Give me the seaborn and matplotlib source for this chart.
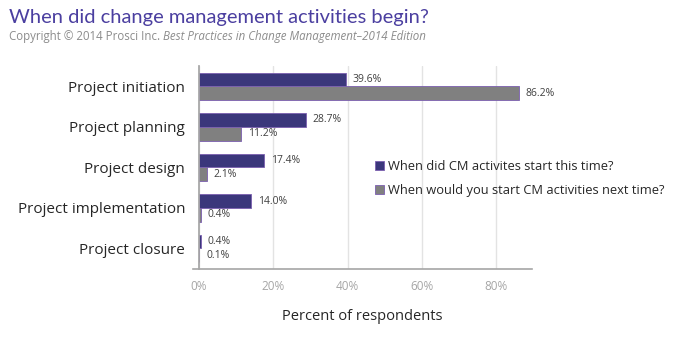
import matplotlib
matplotlib.use("Agg")
import matplotlib.pyplot as plt
import seaborn as sns
import pandas as pd
import numpy as np

categories = ["Project initiation", "Project planning", "Project design",
              "Project implementation", "Project closure"]
series_names = ["When did CM activites start this time?",
                "When would you start CM activities next time?"]
this_time = [39.6, 28.7, 17.4, 14.0, 0.4]
next_time = [86.2, 11.2, 2.1, 0.4, 0.1]
x_ticks = [0, 20, 40, 60, 80]

sns.set_theme(style="white")
plt.rcParams['font.family'] = ['Open Sans', 'DejaVu Sans']

df = pd.DataFrame({
    "category": categories * 2,
    "series": [series_names[0]] * len(categories) + [series_names[1]] * len(categories),
    "value": this_time + next_time,
})

fig = plt.figure(figsize=(7, 3.48), dpi=100)
ax = fig.add_axes([0.2764, 0.228, 0.4836, 0.582])

colors = ["#312C86", "#808080"]
sns.barplot(data=df, y="category", x="value", hue="series", order=categories,
            hue_order=series_names, palette=colors, orient="h", width=0.68,
            edgecolor="#7B5FB0", linewidth=0.6, ax=ax, legend=True)

ax.set_xlim(-1.5, 89.7)
ax.set_ylim(len(categories) - 0.5, -0.5)
ax.set_xticks(x_ticks)
ax.set_xticklabels([f"{t}%" for t in x_ticks], color="#A6A6A6", fontsize=8.5)
ax.xaxis.grid(True, color="#E3E3E3", linewidth=1)
ax.set_axisbelow(True)
ax.tick_params(axis="x", length=0, pad=8)

ax.set_yticks(range(len(categories)))
ax.set_yticklabels(categories, fontsize=11, color="#262626")
ax.tick_params(axis="y", which="major", length=0, pad=10)
ax.set_yticks(np.arange(-0.5, len(categories), 1), minor=True)
ax.tick_params(axis="y", which="minor", length=5, color="#A6A6A6", width=1)

for s in ["top", "right"]:
    ax.spines[s].set_visible(False)
ax.spines["left"].set_color("#A6A6A6")
ax.spines["bottom"].set_color("#A6A6A6")
ax.spines["left"].set_position(("data", 0))
ax.spines["bottom"].set_linewidth(1.2)

ax.set_xlabel("Percent of respondents", fontsize=10.5, color="#262626", labelpad=12)
ax.set_ylabel("")

for cont in ax.containers:
    ax.bar_label(cont, labels=[f"{v:.1f}%" for v in cont.datavalues],
                 padding=5, fontsize=7.5, color="#404040")

leg = ax.legend(loc="upper left", bbox_to_anchor=(0.52, 0.56), frameon=False,
                fontsize=9.3, handlelength=0.7, handleheight=0.7,
                handletextpad=0.3, labelspacing=0.8, borderaxespad=0)
for t in leg.get_texts():
    t.set_color("#262626")

fig.text(0.013, 0.935, "When did change management activities begin?",
         fontsize=14.5, color="#4B3FA0", family=["Lato", "DejaVu Sans"])
t1 = fig.text(0.013, 0.885, "Copyright \u00a9 2014 Prosci Inc. ", fontsize=8.3,
              color="#8C8C8C")
fig.canvas.draw()
bb = t1.get_window_extent(renderer=fig.canvas.get_renderer())
x_next = bb.x1 / fig.bbox.width
fig.text(x_next, 0.885, "Best Practices in Change Management\u20132014 Edition",
         fontsize=8.3, color="#8C8C8C", style="italic")

fig.savefig("out.png", dpi=100)
